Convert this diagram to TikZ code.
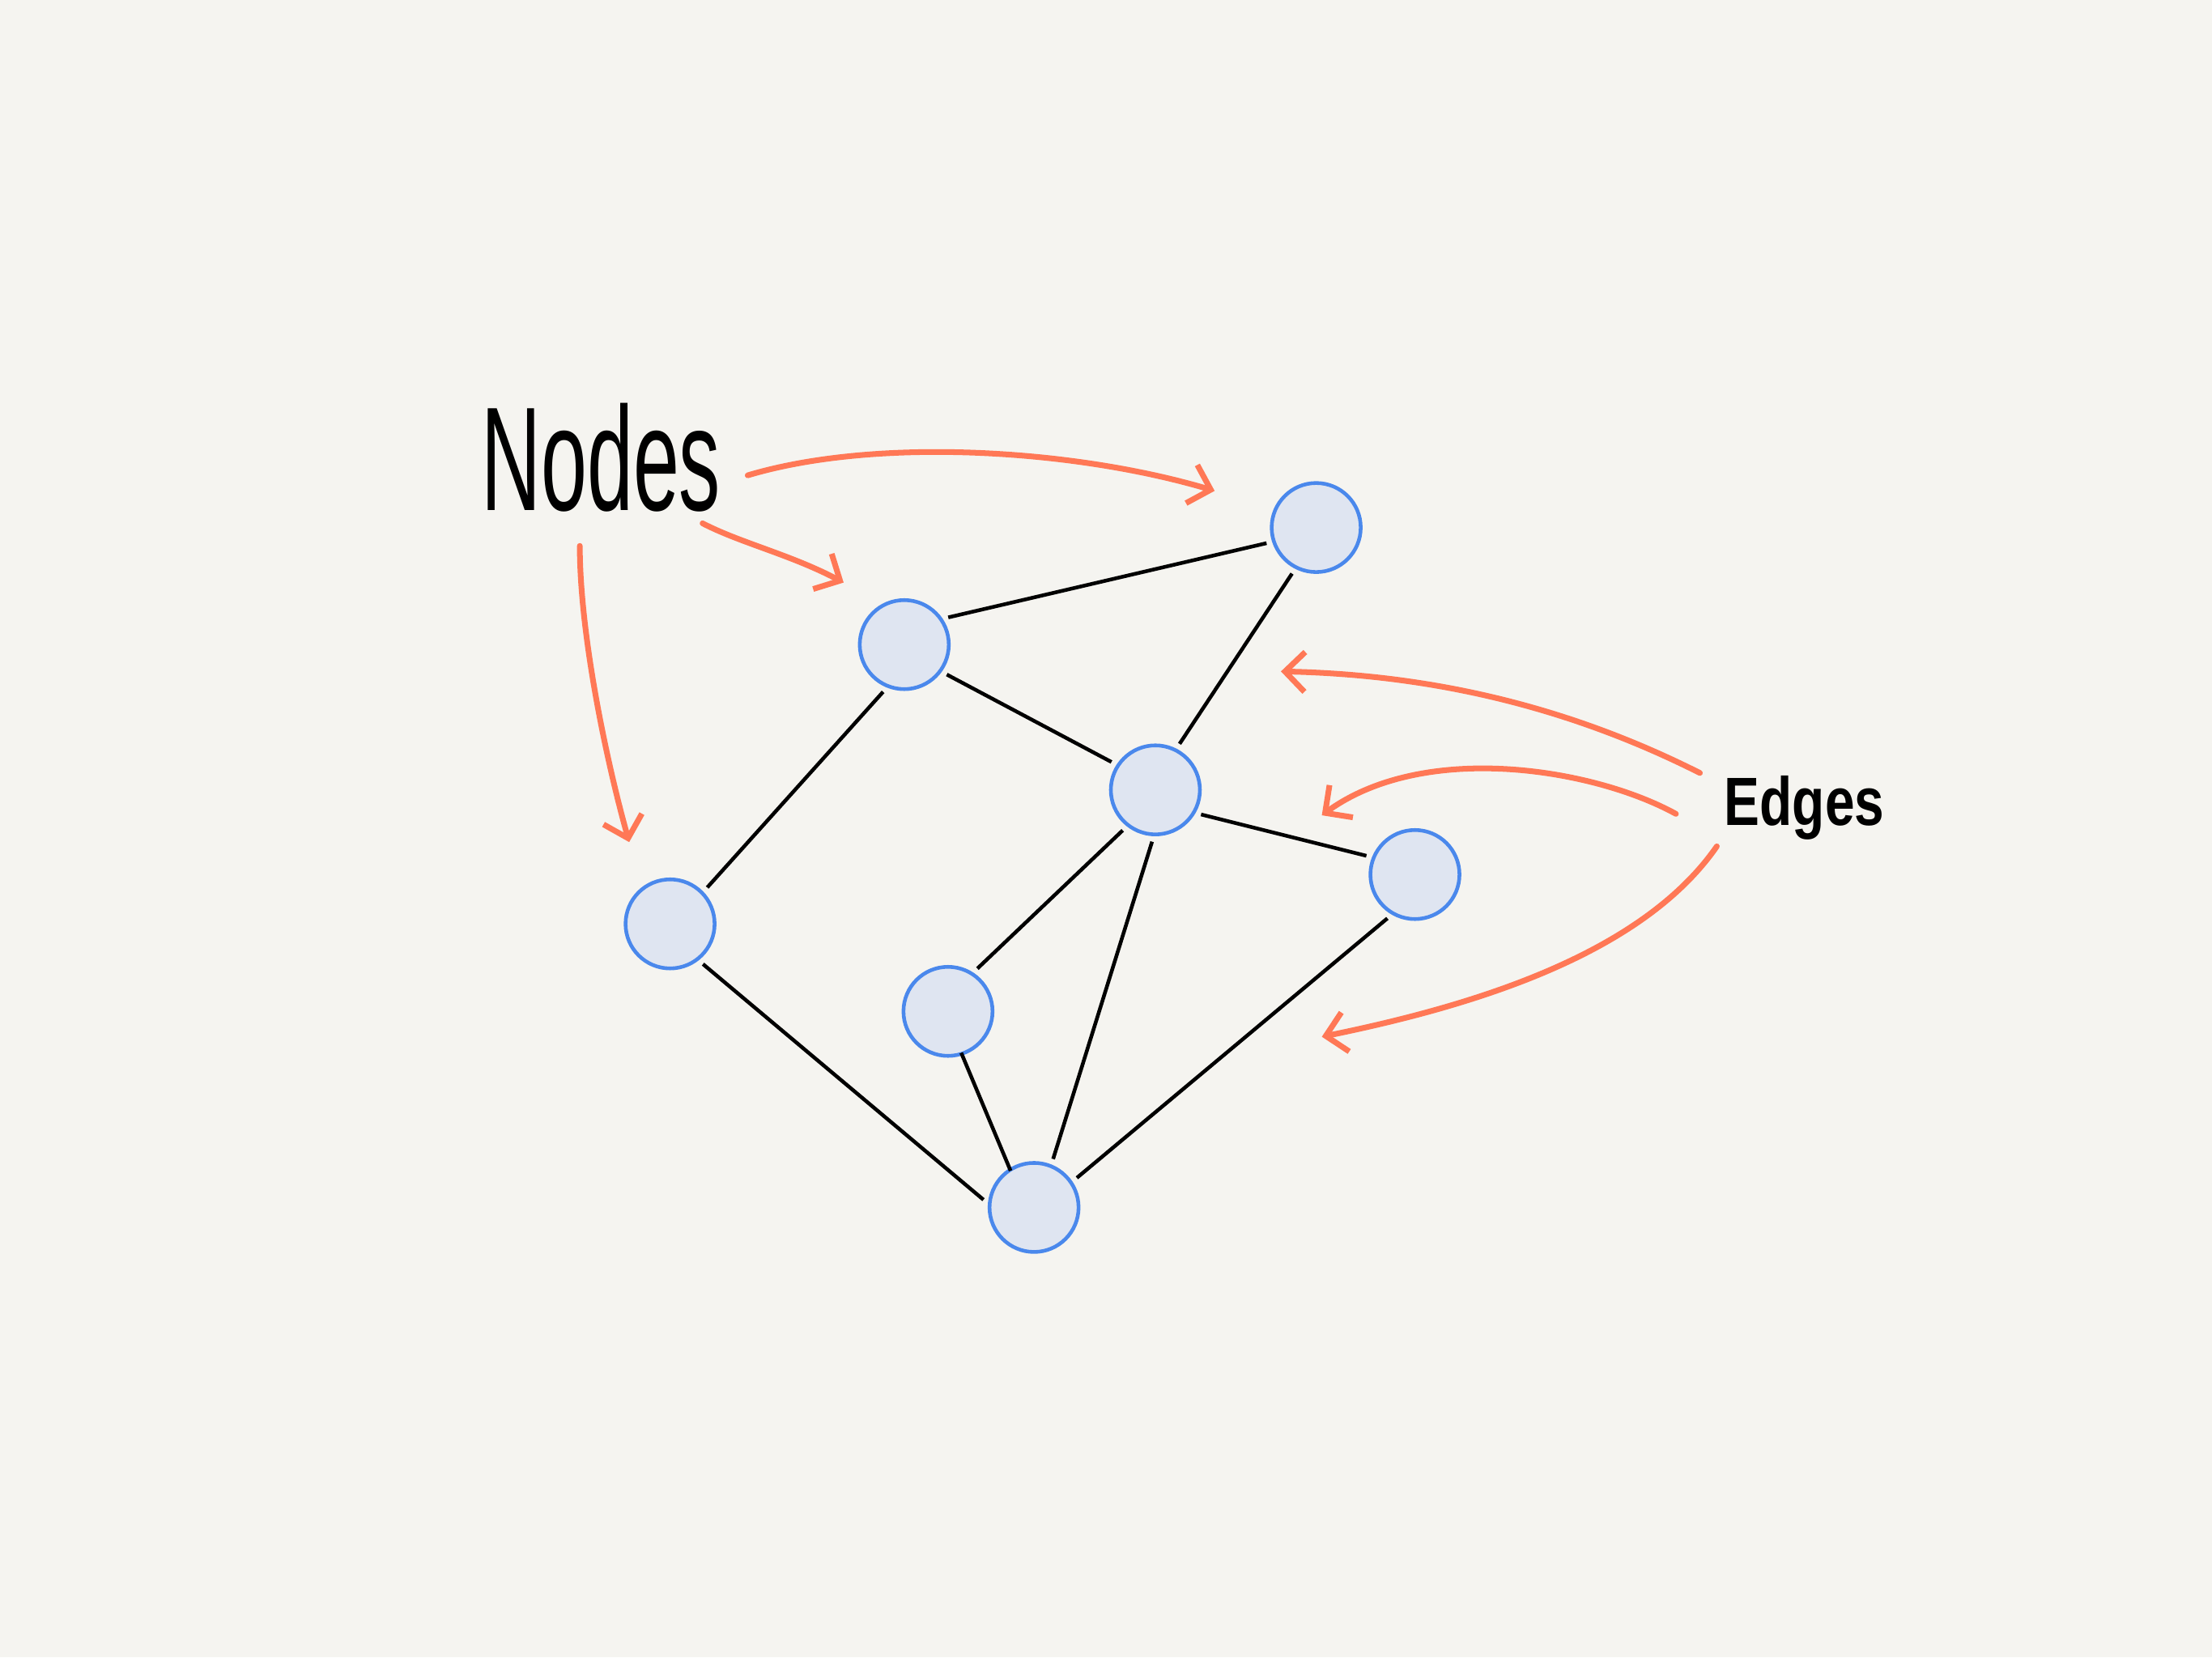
\documentclass[tikz,border=0pt]{standalone}
\usepackage{fontspec}
\usepackage{graphicx}
\setmainfont{Liberation Sans}
\usetikzlibrary{arrows.meta}

\definecolor{paper}{HTML}{F5F4F0}
\definecolor{nodefill}{HTML}{DFE5F1}
\definecolor{nodeline}{HTML}{4A88EC}
\definecolor{pointer}{HTML}{FF7856}

\begin{document}
\begin{tikzpicture}[
    x=0.01742cm, y=-0.01742cm,
    vertex/.style={circle, draw=nodeline, fill=nodefill, line width=1.3pt,
                   minimum size=1.1cm, inner sep=0pt},
    link/.style={draw=black, line width=1.3pt, shorten >=2pt, shorten <=2pt},
    pointer/.style={draw=pointer, line width=2pt, line cap=round,
                    -{Straight Barb[length=7pt, width=14pt, line width=2pt]}},
    label text/.style={inner sep=0pt, anchor=base}
]

% Background
\fill[paper] (0,0) rectangle (1568,1175);
\useasboundingbox (0,0) rectangle (1568,1175);

% Define nodes
\node[vertex] (top) at (933,374) {};
\node[vertex] (upper) at (641,457) {};
\node[vertex] (middle) at (819,560) {};
\node[vertex] (right) at (1003,620) {};
\node[vertex] (left) at (475,655) {};
\node[vertex] (inner) at (672,717) {};
\node[vertex] (bottom) at (733,856) {};

% Edges
\draw[link] (upper.34) -- (top.198);
\draw[link] (middle.63) -- (top.243);
\draw[link] (upper.-36) -- (middle.147);
\draw[link] (upper.248) -- (left.44);
\draw[link] (middle.-30) -- (right.158);
\draw[link] (middle.232) -- (inner.57);
\draw[link] (middle.268) -- (bottom.68);
\draw[link] (right.240) -- (bottom.34);
\draw[link] (left.-52) -- (bottom.175);
\draw[link, shorten >=-1pt, shorten <=-1pt] (inner.-72) -- (bottom.122);

% Labels
\node[label text] (nodesLabel) at (426,362)
    {\fontsize{52}{60}\selectfont\scalebox{0.56}[1]{Nodes}};
\node[label text] (edgesLabel) at (1279,585)
    {\fontsize{24}{28}\selectfont\bfseries\scalebox{0.78}[1]{Edges}};

% Pointers
\coordinate (nodesEast) at (530,337);
\coordinate (nodesSouthEast) at (498,371);
\coordinate (nodesSouth) at (411,387);
\coordinate (edgesNorth) at (1205,548);
\coordinate (edgesWest) at (1188,577);
\coordinate (edgesSouth) at (1217,600);

\draw[pointer] (nodesEast) .. controls (620,310) and (760,318) .. (861,348);
\draw[pointer] (nodesSouthEast) .. controls (525,385) and (560,393) .. (598,413);
\draw[pointer] (nodesSouth) .. controls (411,450) and (430,540) .. (446,597);
\draw[pointer] (edgesNorth) .. controls (1100,495) and (1000,478) .. (908,476);
\draw[pointer] (edgesWest) .. controls (1130,545) and (1010,525) .. (937,578);
\draw[pointer] (edgesSouth) .. controls (1165,675) and (1050,712) .. (937,735);

\end{tikzpicture}
\end{document}
